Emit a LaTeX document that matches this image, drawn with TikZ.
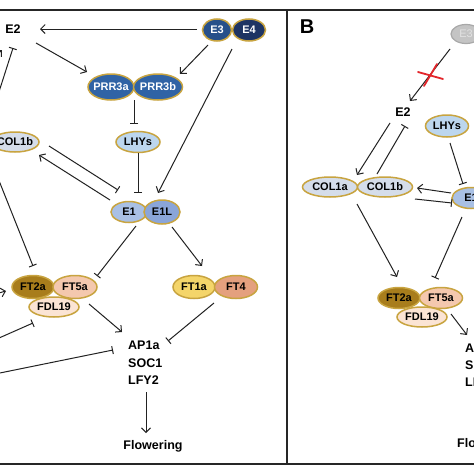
\documentclass[tikz,border=0pt]{standalone}
\usepackage{fontspec}
\setmainfont{Liberation Sans}
\usetikzlibrary{shapes.geometric,arrows.meta}
\definecolor{gold}{HTML}{C8A440}
\definecolor{cEthree}{HTML}{27508A}
\definecolor{cEfour}{HTML}{1E3463}
\definecolor{cPRR}{HTML}{3063A5}
\definecolor{cLHY}{HTML}{BCD6EE}
\definecolor{cCOL}{HTML}{D5DDEA}
\definecolor{cEone}{HTML}{A9C0E4}
\definecolor{cEoneL}{HTML}{8AA5D9}
\definecolor{cFTtwo}{HTML}{A87D1C}
\definecolor{cFTfive}{HTML}{F4C8AE}
\definecolor{cFDL}{HTML}{FBE4D4}
\definecolor{cFTone}{HTML}{F4D56A}
\definecolor{cFTfour}{HTML}{E4A07E}
\definecolor{gfill}{HTML}{C4C4C4}
\definecolor{gdraw}{HTML}{A8A8A8}
\definecolor{gtext}{HTML}{E2E2E2}
\definecolor{xred}{HTML}{E3262B}
\definecolor{ink}{HTML}{222222}
\newcommand\mkz[1]{\makebox[0pt][c]{#1}}
\newcommand\lblfont{\fontsize{11}{12}\selectfont\bfseries}
\newcommand\bigfont{\fontsize{12.5}{14}\selectfont\bfseries}
\begin{document}
\begin{tikzpicture}[x=1pt,y=-1pt,
  gene/.style={ellipse, draw=gold, line width=1.5pt, inner sep=0pt, font=\lblfont, text=black},
  txt/.style={inner sep=0pt, font=\bigfont, text=black},
  act/.style={draw=ink, line width=1pt, -{Straight Barb[length=4.5pt,width=9pt]}},
  inh/.style={draw=ink, line width=1pt, -{Bar[width=8pt,line width=1pt]}},
  frame/.style={draw=black!85}]
\useasboundingbox (0,0) rectangle (474,474);
\clip (0,0) rectangle (474,474);
\fill[white] (0,0) rectangle (474,474);
% frame
\draw[frame, line width=1.3pt] (0,10) -- (474,10);
\draw[frame, line width=2pt] (0,464) -- (474,464);
\draw[frame, line width=2pt] (287,10) -- (287,464);

% ---------- panel A ----------
\node[txt] (E2) at (13,29) {E2};
\node[gene, fill=cEthree, text=white, minimum width=29pt, minimum height=22pt] (E3) at (217,30) {\mkz{E3}};
\node[gene, fill=cEfour, text=white, minimum width=33pt, minimum height=22pt] (E4) at (249,30) {\mkz{E4}};
\node[gene, fill=cPRR, text=white, minimum width=46pt, minimum height=26pt] (PRR3a) at (111,87) {\mkz{PRR3a}};
\node[gene, fill=cPRR, text=white, minimum width=49pt, minimum height=26pt] (PRR3b) at (158,87) {\mkz{PRR3b}};
\node[gene, fill=cLHY, minimum width=44pt, minimum height=21pt] (LHYs) at (138,142) {\mkz{LHYs}};
\node[gene, fill=cCOL, minimum width=48pt, minimum height=20pt] (COLbA) at (15,142) {\mkz{COL1b}};
\node[gene, fill=cEone, minimum width=36pt, minimum height=21pt] (E1) at (129,212) {\mkz{E1}};
\node[gene, fill=cEoneL, minimum width=36pt, minimum height=24pt] (E1L) at (162,212) {\mkz{E1L}};
\node[gene, fill=cFTone, minimum width=42pt, minimum height=23pt] (FT1a) at (194,287) {\mkz{FT1a}};
\node[gene, fill=cFTfour, minimum width=43pt, minimum height=23pt] (FT4) at (236,287) {\mkz{FT4}};
\node[gene, fill=cFTtwo, minimum width=42pt, minimum height=23pt] (FT2a) at (33,287) {\mkz{FT2a}};
\node[gene, fill=cFTfive, minimum width=44pt, minimum height=23pt] (FT5a) at (75,287) {\mkz{FT5a}};
\node[gene, fill=cFDL, minimum width=50pt, minimum height=20pt] (FDL19) at (54,307) {\mkz{FDL19}};
\node[txt, anchor=west] (AP1a) at (128,345) {AP1a};
\node[txt, anchor=west] (SOC1) at (128,363) {SOC1};
\node[txt, anchor=west] (LFY2) at (128,380) {LFY2};
\node[txt] (Flow) at (153,446) {Flowering};
\coordinate (offCOLa) at (-10,158);
\coordinate (offFDL) at (-10,342);
\coordinate (offAP) at (-10,375);
\coordinate (offEtwo) at (-12,64);
\coordinate (offFT) at (-12,296);
\coordinate (offE2src) at (-3,98);

\draw[act] ([shift={(-20,-1)}]E3.center) -- ([shift={(27,0)}]E2.center);
\draw[act] ([shift={(23,14)}]E2.center) -- ([shift={(-24,-15)}]PRR3a.center);
\draw[act] ([shift={(-9,15)}]E3.center) -- ([shift={(22,-13)}]PRR3b.center);
\draw[act] ([shift={(-17,19)}]E4.center) -- ([shift={(-4,-19)}]E1L.center);
\draw[inh] ([shift={(23,13)}]PRR3a.center) -- ([shift={(-4,-18)}]LHYs.center);
\draw[inh] ([shift={(0,11)}]LHYs.center) -- ([shift={(9,-19)}]E1.center);
\draw[inh] ([shift={(34,4)}]COLbA.center) -- ([shift={(-11,-22)}]E1.center);
\draw[act] ([shift={(-19,-12)}]E1.center) -- ([shift={(24,13)}]COLbA.center);
\draw[inh] (offCOLa) -- ([shift={(0,-21)}]FT2a.center);
\draw[inh] ([shift={(7,14)}]E1.center) -- ([shift={(22,-11)}]FT5a.center);
\draw[act] ([shift={(10,15)}]E1L.center) -- ([shift={(8,-21)}]FT1a.center);
\draw[inh] ([shift={(-22,16)}]FT4.center) -- ([shift={(40,-4)}]AP1a.west);
\draw[act] ([shift={(14,17)}]FT5a.center) -- ([shift={(-6,-13)}]AP1a.west);
\draw[inh] (offFDL) -- ([shift={(-21,16)}]FDL19.center);
\draw[inh] (offAP) -- ([shift={(-15,5)}]AP1a.west);
\draw[act] ([shift={(18,12)}]LFY2.west) -- ([shift={(-7,-13)}]Flow.center);
\draw[act] (offFT) -- ([shift={(-27,4)}]FT2a.center);
\draw[act] (offEtwo) -- ([shift={(-11,21)}]E2.center);
\draw[inh] (offE2src) -- ([shift={(0,19)}]E2.center);

% ---------- panel B ----------
\node[inner sep=0pt, font=\fontsize{20}{22}\selectfont\bfseries] (Blab) at (307,27) {B};
\node[ellipse, fill=gfill, draw=gdraw, line width=1.2pt, inner sep=0pt, minimum width=30pt, minimum height=19pt, text=gtext, font=\lblfont\mdseries] (E3B) at (466,34) {\mkz{E3}};
\node[txt] (E2B) at (403,112) {E2};
\node[gene, fill=cLHY, minimum width=43pt, minimum height=22pt] (LHYsB) at (447,126) {\mkz{LHYs}};
\node[gene, fill=cCOL, minimum width=55pt, minimum height=20pt] (COLa) at (330,187) {\mkz{COL1a}};
\node[gene, fill=cCOL, minimum width=55pt, minimum height=20pt] (COLbB) at (385,187) {\mkz{COL1b}};
\node[gene, fill=cEone, minimum width=38pt, minimum height=21pt] (E1B) at (471,198) {\mkz{E1}};
\node[gene, fill=cFTtwo, minimum width=42pt, minimum height=21pt] (FT2aB) at (399,298) {\mkz{FT2a}};
\node[gene, fill=cFTfive, minimum width=43pt, minimum height=21pt] (FT5aB) at (441,298) {\mkz{FT5a}};
\node[gene, fill=cFDL, minimum width=50pt, minimum height=20pt] (FDL19B) at (422,317) {\mkz{FDL19}};
\node[txt, anchor=west] (AP1aB) at (465,348) {AP1a};
\node[txt, anchor=west] (SOC1B) at (465,365) {SOC1};
\node[txt, anchor=west] (LFY2B) at (465,382) {LFY2};
\node[txt, anchor=west] (FlowB) at (457,444) {Flowering};

\draw[act] ([shift={(-16,15)}]E3B.center) -- ([shift={(7,-11)}]E2B.center);
\draw[xred, line width=1.8pt, line cap=round] (424,86) -- (437,64);
\draw[xred, line width=1.8pt, line cap=round] (418,72) -- (443,79);
\draw[act] ([shift={(-13,11)}]E2B.center) -- ([shift={(27,-12)}]COLa.center);
\draw[inh] ([shift={(-8,-13)}]COLbB.center) -- ([shift={(2,14)}]E2B.center);
\draw[inh] ([shift={(3,17)}]LHYsB.center) -- ([shift={(-8,-14)}]E1B.center);
\draw[act] ([shift={(-20,-5)}]E1B.center) -- ([shift={(32,1)}]COLbB.center);
\draw[inh] ([shift={(30,12)}]COLbB.center) -- ([shift={(-19,5)}]E1B.center);
\draw[inh] ([shift={(-9,19)}]E1B.center) -- ([shift={(-6,-20)}]FT5aB.center);
\draw[act] ([shift={(27,17)}]COLa.center) -- ([shift={(-2,-21)}]FT2aB.center);
\draw[act] ([shift={(29,-3)}]FDL19B.center) -- ([shift={(2,-13)}]AP1aB.west);
\end{tikzpicture}
\end{document}
